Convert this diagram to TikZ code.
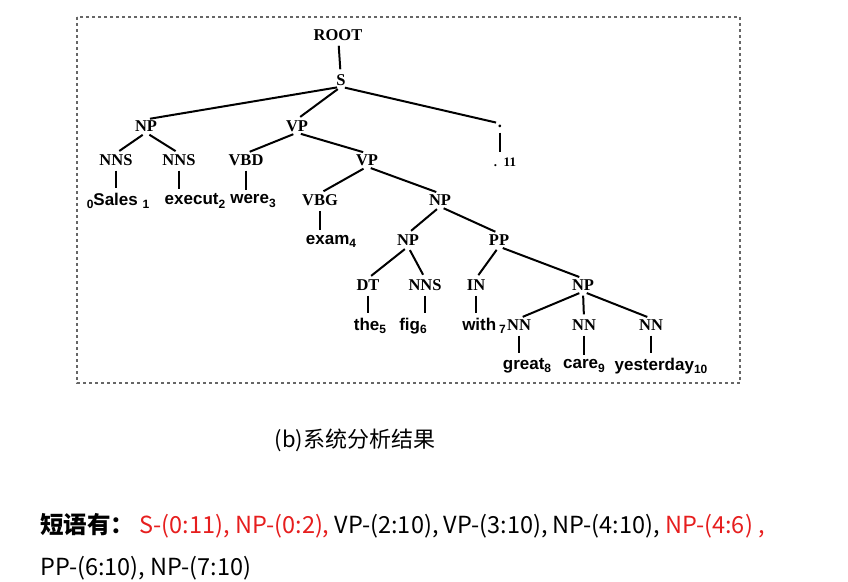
\documentclass[tikz,border=0pt]{standalone}
\usepackage{fontspec}
\setmainfont{Liberation Serif}
\newfontfamily\wordfont{Liberation Sans}
\newfontfamily\cjk{Noto Sans CJK SC}
\usetikzlibrary{positioning}
\definecolor{phrasered}{RGB}{230,30,30}
\newcommand{\idx}[1]{\raisebox{-0.35ex}{\fontsize{12}{12}\selectfont #1}}
\begin{document}
\begin{tikzpicture}[x=1pt,y=-1pt,
    tag/.style={font=\bfseries\fontsize{16.5}{16}\selectfont, inner sep=1pt},
    word/.style={font=\wordfont\bfseries\fontsize{17}{16}\selectfont, inner sep=1pt},
    branch/.style={line width=2pt, shorten >=4pt, shorten <=4pt}
  ]
  \useasboundingbox (0,0) rectangle (848,581);
  \draw[dashed, gray!80!black, line width=1.2pt] (77,17) rectangle (740,383);

  % phrase labels
  \node[tag] (root) at (338,35) {ROOT};
  \node[tag] (s) at (341,80) {S};
  \node[tag] (np1) at (146,126) {NP};
  \node[tag] (vp1) at (297,126) {VP};
  \node[tag] (dot) at (500,126) {.};
  \node[tag] (nns1) at (116,160) {NNS};
  \node[tag] (nns2) at (179,160) {NNS};
  \node[tag] (vbd) at (246,160) {VBD};
  \node[tag] (vp2) at (367,160) {VP};
  \node[tag] (vbg) at (320,200) {VBG};
  \node[tag] (np2) at (440,200) {NP};
  \node[tag] (np3) at (408,240) {NP};
  \node[tag] (pp) at (499,240) {PP};
  \node[tag] (dt) at (368,285) {DT};
  \node[tag] (nns3) at (425,285) {NNS};
  \node[tag] (in) at (476,285) {IN};
  \node[tag] (np4) at (583,285) {NP};
  \node[tag] (nn1) at (519,325) {NN};
  \node[tag] (nn2) at (584,325) {NN};
  \node[tag] (nn3) at (651,325) {NN};

  % words
  \node[word] (w0) at (118,201) {\idx{0}Sales \idx{1}};
  \node[word] (w1) at (195,201) {execut\idx{2}};
  \node[word] (w2) at (253,201) {were\idx{3}};
  \node[word] (w3) at (331,241) {exam\idx{4}};
  \node[word] (w4) at (370,326) {the\idx{5}};
  \node[word] (w5) at (413,326) {fig\idx{6}};
  \node[word] (w6) at (484,326) {with\,\idx{7}};
  \node[word] (w7) at (527,366) {great\idx{8}};
  \node[word] (w8) at (584,366) {care\idx{9}};
  \node[word] (w9) at (661,366) {yesterday\idx{10}};
  \node[tag, font=\bfseries\fontsize{13}{13}\selectfont] (w10) at (505,162) {.\ \ 11};

  % branches
  \draw[branch] (root) -- (s);
  \foreach \c in {np1,vp1,dot} \draw[branch] (s.south) -- (\c.north);
  \foreach \c in {nns1,nns2} \draw[branch] (np1.south) -- (\c.north);
  \foreach \c in {vbd,vp2} \draw[branch] (vp1.south) -- (\c.north);
  \foreach \c in {vbg,np2} \draw[branch] (vp2.south) -- (\c.north);
  \foreach \c in {np3,pp} \draw[branch] (np2.south) -- (\c.north);
  \foreach \c in {dt,nns3} \draw[branch] (np3.south) -- (\c.north);
  \foreach \c in {in,np4} \draw[branch] (pp.south) -- (\c.north);
  \foreach \c in {nn1,nn2,nn3} \draw[branch] (np4.south) -- (\c.north);
  \foreach \t/\w in {nns1/w0,nns2/w1,vbd/w2,vbg/w3,dt/w4,nns3/w5,nn1/w7,nn2/w8,nn3/w9}
    \draw[branch] (\t.south) -- (\t.south |- \w.north);
  \draw[branch] (in.south) -- (in.south |- w6.north);
  \draw[branch] (dot.south) -- (dot.south |- w10.north);

  % caption and phrase list
  \node[font=\cjk\fontsize{22}{22}\selectfont] (cap) at (355,440) {(b)系统分析结果};
  \node[anchor=west, font=\cjk\fontsize{23.5}{24}\selectfont, inner sep=0pt] (list1) at (40,526)
    {\textbf{短语有：}\ \textcolor{phrasered}{S-(0:11), NP-(0:2),} VP-(2:10), VP-(3:10), NP-(4:10), \textcolor{phrasered}{NP-(4:6) ,}};
  \node[anchor=west, font=\cjk\fontsize{23.5}{24}\selectfont, inner sep=0pt] (list2) at (40,568)
    {PP-(6:10), NP-(7:10)};
\end{tikzpicture}
\end{document}
